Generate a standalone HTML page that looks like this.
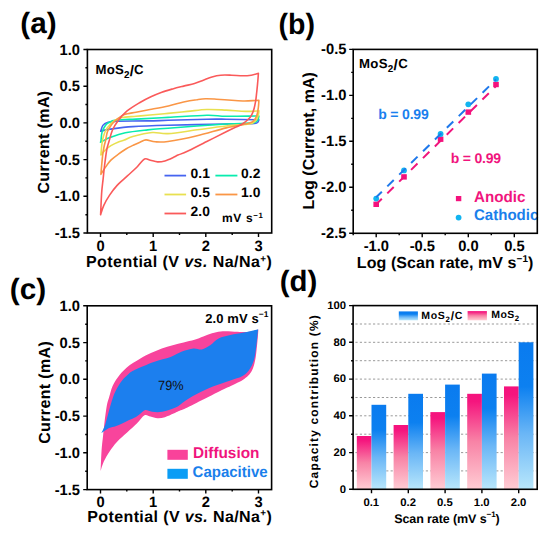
<!DOCTYPE html>
<html><head><meta charset="utf-8"><style>
html,body{margin:0;padding:0;background:#fff;overflow:hidden;width:550px;height:536px;}
svg{display:block;}
text{font-family:"Liberation Sans",sans-serif;text-rendering:geometricPrecision;}
</style></head><body>
<svg width="550" height="536" viewBox="0 0 550 536">
<rect width="550" height="536" fill="#fff"/>
<text transform="translate(20.30,32.75) scale(1.0061,1)" text-anchor="start" fill="#000" style="font-size:29.50px;font-weight:bold;font-style:normal;letter-spacing:0.00px">(a)</text>
<path d="M83.4 49.5H87.4M83.4 86.2H87.4M83.4 122.9H87.4M83.4 159.6H87.4M83.4 196.3H87.4M83.4 233.0H87.4M85.4 67.8H87.4M85.4 104.5H87.4M85.4 141.2H87.4M85.4 177.9H87.4M85.4 214.7H87.4" stroke="#000" stroke-width="1.4" fill="none"/>
<path d="M100.5 233.0V237.0M153.2 233.0V237.0M205.8 233.0V237.0M258.5 233.0V237.0M126.8 233.0V235.0M179.5 233.0V235.0M232.2 233.0V235.0" stroke="#000" stroke-width="1.4" fill="none"/>
<text transform="translate(80.00,54.50) scale(0.9800,1)" text-anchor="end" fill="#000" style="font-size:15.00px;font-weight:bold;font-style:normal;letter-spacing:0.00px">1.0</text>
<text transform="translate(80.00,91.20) scale(0.9800,1)" text-anchor="end" fill="#000" style="font-size:15.00px;font-weight:bold;font-style:normal;letter-spacing:0.00px">0.5</text>
<text transform="translate(80.00,127.90) scale(0.9800,1)" text-anchor="end" fill="#000" style="font-size:15.00px;font-weight:bold;font-style:normal;letter-spacing:0.00px">0.0</text>
<text transform="translate(80.00,164.60) scale(0.9800,1)" text-anchor="end" fill="#000" style="font-size:15.00px;font-weight:bold;font-style:normal;letter-spacing:0.00px">-0.5</text>
<text transform="translate(80.00,201.30) scale(0.9800,1)" text-anchor="end" fill="#000" style="font-size:15.00px;font-weight:bold;font-style:normal;letter-spacing:0.00px">-1.0</text>
<text transform="translate(80.00,238.00) scale(0.9800,1)" text-anchor="end" fill="#000" style="font-size:15.00px;font-weight:bold;font-style:normal;letter-spacing:0.00px">-1.5</text>
<text transform="translate(100.50,251.00) scale(0.9800,1)" text-anchor="middle" fill="#000" style="font-size:15.00px;font-weight:bold;font-style:normal;letter-spacing:0.00px">0</text>
<text transform="translate(153.17,251.00) scale(0.9800,1)" text-anchor="middle" fill="#000" style="font-size:15.00px;font-weight:bold;font-style:normal;letter-spacing:0.00px">1</text>
<text transform="translate(205.84,251.00) scale(0.9800,1)" text-anchor="middle" fill="#000" style="font-size:15.00px;font-weight:bold;font-style:normal;letter-spacing:0.00px">2</text>
<text transform="translate(258.51,251.00) scale(0.9800,1)" text-anchor="middle" fill="#000" style="font-size:15.00px;font-weight:bold;font-style:normal;letter-spacing:0.00px">3</text>
<text transform="translate(85.95,267.00)" text-anchor="start" fill="#000" style="font-size:16.00px;font-weight:bold;font-style:normal;letter-spacing:0.45px">Potential (V <tspan font-style="italic">vs.</tspan> Na/Na<tspan dy="-0.55em" style="font-size:0.62em">+</tspan><tspan dy="0.34em">)</tspan></text>
<text transform="translate(48.60,193.60) rotate(-90)" text-anchor="start" fill="#000" style="font-size:16.00px;font-weight:bold;font-style:normal;letter-spacing:0.37px">Current (mA)</text>
<text transform="translate(95.50,74.20)" text-anchor="start" fill="#000" style="font-size:13.20px;font-weight:bold;font-style:normal;letter-spacing:0.20px">MoS<tspan dy="0.4em" style="font-size:0.75em">2</tspan><tspan dy="-0.12em" style="font-size:1.15em">/</tspan><tspan dy="-0.162em">C</tspan></text>
<path d="M100.7 131.3C101.1 130.3 101.8 126.9 102.9 125.4C104.0 123.9 104.9 123.1 107.4 122.4C109.9 121.7 111.2 121.5 117.9 121.2C124.6 121.0 139.3 121.1 147.7 120.9C156.0 120.8 158.2 120.6 168.0 120.3C177.8 120.0 197.1 119.4 206.8 119.2C216.5 119.0 217.5 119.1 226.2 119.2C234.9 119.3 253.4 119.7 258.9 119.8C258.6 120.3 258.4 122.0 257.3 122.6C256.2 123.2 257.2 123.4 252.0 123.6C246.8 123.8 240.2 123.7 226.2 124.0C212.2 124.3 183.6 124.8 168.0 125.2C152.4 125.6 142.4 125.9 132.8 126.6C123.2 127.2 115.4 128.4 110.4 129.1C105.4 129.8 104.5 130.2 102.9 130.6C101.3 131.0 101.1 131.2 100.7 131.3Z" fill="none" stroke="#4664F0" stroke-width="1.6" stroke-linejoin="round"/>
<path d="M100.9 142.0C101.1 140.4 101.2 135.2 102.0 132.4C102.8 129.6 104.4 126.6 105.7 124.9C107.0 123.2 108.5 122.8 110.0 122.0C111.5 121.2 112.2 120.8 114.7 120.4C117.2 120.0 121.8 119.7 125.3 119.5C128.8 119.3 128.9 119.4 136.0 119.1C143.1 118.8 156.2 118.0 168.0 117.4C179.8 116.8 197.1 115.5 206.8 115.3C216.5 115.1 217.5 116.2 226.2 116.3C234.9 116.4 253.4 116.0 258.9 116.0C258.7 116.7 258.6 119.3 257.8 120.4C257.0 121.5 256.0 122.1 253.9 122.6C251.8 123.1 249.6 123.2 245.0 123.4C240.4 123.6 239.0 123.2 226.2 124.0C213.4 124.8 181.1 127.2 168.0 128.2C154.9 129.2 154.8 129.1 147.7 129.9C140.6 130.7 131.5 131.6 125.3 132.8C119.1 134.0 114.4 135.8 110.4 137.3C106.4 138.8 103.0 141.1 101.4 141.8C99.8 142.6 100.8 141.8 100.7 141.8Z" fill="none" stroke="#08ECAE" stroke-width="1.6" stroke-linejoin="round"/>
<path d="M100.9 154.9C101.1 153.2 101.4 148.1 101.8 145.0C102.2 141.9 102.6 138.9 103.5 136.1C104.4 133.2 105.3 130.5 107.2 127.9C109.1 125.3 112.2 122.1 114.7 120.4C117.2 118.7 118.5 118.2 122.1 117.5C125.6 116.8 131.3 116.7 136.0 116.3C140.7 115.9 144.7 115.5 150.0 115.0C155.3 114.5 161.8 114.0 168.0 113.4C174.2 112.8 180.9 112.1 187.4 111.4C193.9 110.8 200.3 109.7 206.8 109.5C213.3 109.3 219.7 109.8 226.2 110.1C232.7 110.4 240.2 111.3 245.6 111.4C251.0 111.5 256.7 111.0 258.9 110.9C258.8 111.6 258.8 113.4 258.4 114.8C258.0 116.2 257.4 118.1 256.7 119.3C255.9 120.5 255.2 121.3 253.9 122.1C252.6 122.9 253.6 123.3 249.0 124.0C244.4 124.7 234.8 125.0 226.2 126.0C217.5 127.0 206.8 128.5 197.1 129.8C187.4 131.1 175.5 133.2 168.0 133.6C160.5 134.0 158.1 132.0 152.2 132.5C146.3 133.0 137.4 135.3 132.8 136.6C128.2 137.8 126.8 139.1 124.4 140.0C122.0 140.9 120.7 141.0 118.4 141.9C116.2 142.8 113.0 144.3 110.9 145.6C108.8 146.9 107.4 148.1 105.7 149.7C104.0 151.2 101.7 154.0 100.9 154.9Z" fill="none" stroke="#E8E050" stroke-width="1.6" stroke-linejoin="round"/>
<path d="M100.9 174.3C101.0 172.9 101.3 169.3 101.6 166.1C101.9 162.9 102.3 158.2 102.7 154.9C103.1 151.6 103.7 148.5 104.2 146.0C104.7 143.5 105.2 142.3 105.7 140.0C106.2 137.7 106.5 134.6 107.2 132.4C107.9 130.2 109.0 128.6 110.0 127.0C111.0 125.4 111.8 124.2 113.2 122.7C114.6 121.2 116.5 119.6 118.4 118.2C120.3 116.8 121.5 115.5 124.4 114.5C127.3 113.5 131.7 113.0 136.0 112.2C140.3 111.4 144.6 110.5 150.0 109.5C155.4 108.5 162.8 107.2 168.4 106.0C174.0 104.8 178.9 103.0 183.6 102.0C188.3 101.0 193.0 100.3 196.7 99.8C200.3 99.2 202.2 98.8 205.5 98.7C208.8 98.6 212.1 98.9 216.4 99.2C220.8 99.5 226.9 100.0 231.6 100.3C236.3 100.6 240.7 101.0 244.7 101.0C248.7 101.0 253.2 100.6 255.6 100.5C258.0 100.4 258.3 100.4 258.9 100.4C258.8 101.5 258.7 104.8 258.4 107.0C258.1 109.2 257.8 111.8 257.3 113.7C256.8 115.6 256.4 116.9 255.6 118.2C254.8 119.5 254.2 120.6 252.8 121.5C251.4 122.4 251.6 122.7 247.2 123.8C242.8 124.9 234.5 125.9 226.2 127.9C217.8 129.9 206.8 133.4 197.1 135.7C187.4 138.0 175.0 140.5 168.0 141.5C161.0 142.5 158.9 142.1 155.2 141.8C151.5 141.5 148.5 139.8 146.0 139.9C143.5 140.0 142.2 141.3 140.0 142.2C137.8 143.1 135.3 144.3 133.0 145.4C130.7 146.5 128.3 147.5 125.9 149.0C123.5 150.5 120.9 152.3 118.4 154.2C115.9 156.0 113.0 158.0 110.9 160.1C108.8 162.2 107.4 164.5 105.7 166.9C104.0 169.3 101.7 173.1 100.9 174.3Z" fill="none" stroke="#FA9646" stroke-width="1.6" stroke-linejoin="round"/>
<path d="M100.6 214.7C100.8 211.2 101.2 199.5 101.6 193.6C102.0 187.7 102.6 183.7 103.1 179.1C103.6 174.5 103.9 170.8 104.5 166.0C105.1 161.2 106.0 154.0 106.7 150.0C107.4 146.0 107.9 145.1 108.9 141.8C109.9 138.5 111.0 133.5 112.5 130.0C114.0 126.5 115.5 124.0 117.9 120.9C120.3 117.8 123.1 114.3 126.8 111.2C130.5 108.1 136.0 104.9 140.0 102.5C144.0 100.1 147.3 98.5 150.9 96.8C154.5 95.1 158.2 93.5 161.8 92.2C165.4 90.9 169.1 89.9 172.7 88.9C176.3 87.9 180.0 87.0 183.6 86.1C187.2 85.2 191.2 84.5 194.5 83.5C197.8 82.5 200.4 81.3 203.3 80.2C206.2 79.1 209.1 77.7 212.0 76.9C214.9 76.1 217.4 75.5 220.7 75.2C224.0 74.9 227.9 75.1 231.6 75.2C235.2 75.3 239.3 75.8 242.6 75.8C245.9 75.8 248.7 75.6 251.3 75.2C253.9 74.8 257.2 73.6 258.4 73.3C258.3 74.6 258.1 78.0 257.8 81.2C257.5 84.4 257.1 89.0 256.7 92.4C256.3 95.8 256.1 98.6 255.6 101.4C255.1 104.2 254.6 107.0 253.9 109.2C253.2 111.4 252.6 113.1 251.7 114.8C250.8 116.5 249.8 117.8 248.3 119.3C246.8 120.8 244.8 122.5 242.7 123.8C240.6 125.1 238.8 125.8 236.0 127.1C233.2 128.4 231.1 129.4 226.2 131.8C221.3 134.2 213.3 138.3 206.8 141.5C200.3 144.7 192.2 148.9 187.4 151.2C182.6 153.5 180.3 154.1 178.0 155.1C175.7 156.1 175.8 156.3 173.6 157.3C171.4 158.3 167.6 160.1 164.9 160.9C162.2 161.7 160.0 162.0 157.6 161.9C155.2 161.8 152.6 160.7 150.4 160.2C148.2 159.7 146.7 157.9 144.5 159.0C142.3 160.1 140.2 163.8 137.3 166.7C134.4 169.6 130.5 173.0 127.1 176.2C123.7 179.3 119.8 182.4 116.9 185.6C114.0 188.8 111.8 191.8 109.6 195.1C107.4 198.4 105.3 202.0 103.8 205.3C102.3 208.6 101.1 213.1 100.6 214.7Z" fill="none" stroke="#FA5A5A" stroke-width="1.6" stroke-linejoin="round"/>
<path d="M164.5 175.6H186.1" stroke="#4664F0" stroke-width="1.8"/>
<path d="M215.4 175.6H237.4" stroke="#08ECAE" stroke-width="1.8"/>
<path d="M164.5 194.5H186.1" stroke="#E8E050" stroke-width="1.8"/>
<path d="M215.4 194.5H237.4" stroke="#FA9646" stroke-width="1.8"/>
<path d="M164.5 213.5H186.1" stroke="#FA5A5A" stroke-width="1.8"/>
<text transform="translate(190.60,178.15) scale(1.0113,1)" text-anchor="start" fill="#000" style="font-size:13.70px;font-weight:bold;font-style:normal;letter-spacing:0.00px">0.1</text>
<text transform="translate(241.10,178.15) scale(1.0113,1)" text-anchor="start" fill="#000" style="font-size:13.70px;font-weight:bold;font-style:normal;letter-spacing:0.00px">0.2</text>
<text transform="translate(190.60,196.95) scale(1.0113,1)" text-anchor="start" fill="#000" style="font-size:13.70px;font-weight:bold;font-style:normal;letter-spacing:0.00px">0.5</text>
<text transform="translate(241.10,196.95) scale(1.0113,1)" text-anchor="start" fill="#000" style="font-size:13.70px;font-weight:bold;font-style:normal;letter-spacing:0.00px">1.0</text>
<text transform="translate(190.60,215.65) scale(1.0113,1)" text-anchor="start" fill="#000" style="font-size:13.70px;font-weight:bold;font-style:normal;letter-spacing:0.00px">2.0</text>
<text transform="translate(222.00,221.80)" text-anchor="start" fill="#000" style="font-size:12.00px;font-weight:bold;font-style:normal;letter-spacing:0.66px">mV s<tspan dy="-0.52em" style="font-size:0.65em">&#8722;1</tspan></text>
<rect x="87.4" y="49.5" width="184.3" height="183.5" fill="none" stroke="#000" stroke-width="1.6"/>
<text transform="translate(278.50,33.50) scale(0.9670,1)" text-anchor="start" fill="#000" style="font-size:29.50px;font-weight:bold;font-style:normal;letter-spacing:0.00px">(b)</text>
<path d="M349.2 49.4H353.2M349.2 95.4H353.2M349.2 141.3H353.2M349.2 187.3H353.2M349.2 233.3H353.2M351.2 72.4H353.2M351.2 118.4H353.2M351.2 164.3H353.2M351.2 210.3H353.2" stroke="#000" stroke-width="1.4" fill="none"/>
<path d="M376.2 233.3V237.3M422.2 233.3V237.3M468.3 233.3V237.3M514.3 233.3V237.3M399.2 233.3V235.3M445.2 233.3V235.3M491.3 233.3V235.3M353.2 233.3V235.3" stroke="#000" stroke-width="1.4" fill="none"/>
<text transform="translate(346.40,54.40) scale(0.9800,1)" text-anchor="end" fill="#000" style="font-size:15.00px;font-weight:bold;font-style:normal;letter-spacing:0.00px">-0.5</text>
<text transform="translate(346.40,100.38) scale(0.9800,1)" text-anchor="end" fill="#000" style="font-size:15.00px;font-weight:bold;font-style:normal;letter-spacing:0.00px">-1.0</text>
<text transform="translate(346.40,146.35) scale(0.9800,1)" text-anchor="end" fill="#000" style="font-size:15.00px;font-weight:bold;font-style:normal;letter-spacing:0.00px">-1.5</text>
<text transform="translate(346.40,192.33) scale(0.9800,1)" text-anchor="end" fill="#000" style="font-size:15.00px;font-weight:bold;font-style:normal;letter-spacing:0.00px">-2.0</text>
<text transform="translate(346.40,238.30) scale(0.9800,1)" text-anchor="end" fill="#000" style="font-size:15.00px;font-weight:bold;font-style:normal;letter-spacing:0.00px">-2.5</text>
<text transform="translate(376.30,251.00) scale(0.9800,1)" text-anchor="middle" fill="#000" style="font-size:15.00px;font-weight:bold;font-style:normal;letter-spacing:0.00px">-1.0</text>
<text transform="translate(422.33,251.00) scale(0.9800,1)" text-anchor="middle" fill="#000" style="font-size:15.00px;font-weight:bold;font-style:normal;letter-spacing:0.00px">-0.5</text>
<text transform="translate(468.36,251.00) scale(0.9800,1)" text-anchor="middle" fill="#000" style="font-size:15.00px;font-weight:bold;font-style:normal;letter-spacing:0.00px">0.0</text>
<text transform="translate(514.39,251.00) scale(0.9800,1)" text-anchor="middle" fill="#000" style="font-size:15.00px;font-weight:bold;font-style:normal;letter-spacing:0.00px">0.5</text>
<text transform="translate(356.85,267.80)" text-anchor="start" fill="#000" style="font-size:16.00px;font-weight:bold;font-style:normal;letter-spacing:0.07px">Log (Scan rate, mV s<tspan dy="-0.565em" style="font-size:0.62em">&#8722;1</tspan><tspan dy="0.35em">)</tspan></text>
<text transform="translate(314.40,209.55) rotate(-90)" text-anchor="start" fill="#000" style="font-size:16.00px;font-weight:bold;font-style:normal;letter-spacing:0.03px">Log (Current, mA)</text>
<text transform="translate(359.00,68.20)" text-anchor="start" fill="#000" style="font-size:13.20px;font-weight:bold;font-style:normal;letter-spacing:0.32px">MoS<tspan dy="0.4em" style="font-size:0.75em">2</tspan><tspan dy="-0.12em" style="font-size:1.15em">/</tspan><tspan dy="-0.162em">C</tspan></text>
<rect x="373.4" y="201.6" width="5.6" height="5.4" fill="#F5127D"/>
<rect x="401.2" y="174.2" width="5.6" height="5.4" fill="#F5127D"/>
<rect x="437.8" y="136.5" width="5.6" height="5.4" fill="#F5127D"/>
<rect x="465.5" y="109.4" width="5.6" height="5.4" fill="#F5127D"/>
<rect x="493.2" y="81.8" width="5.6" height="5.4" fill="#F5127D"/>
<circle cx="376.2" cy="198.6" r="2.9" fill="#12B4F0"/>
<circle cx="404.0" cy="170.4" r="2.9" fill="#12B4F0"/>
<circle cx="440.6" cy="134.0" r="2.9" fill="#12B4F0"/>
<circle cx="468.3" cy="104.3" r="2.9" fill="#12B4F0"/>
<circle cx="496.0" cy="78.9" r="2.9" fill="#12B4F0"/>
<path d="M376.2 204.3L496.0 86.1" stroke="#F0147D" stroke-width="2" stroke-dasharray="9 7.7" stroke-dashoffset="1.1"/>
<path d="M376.2 197.3L496.0 79.5" stroke="#1E78EB" stroke-width="2" stroke-dasharray="9 7.7" stroke-dashoffset="1.1"/>
<text transform="translate(378.20,118.60)" text-anchor="start" fill="#1A80EE" style="font-size:14.00px;font-weight:bold;font-style:normal;letter-spacing:-0.17px">b = 0.99</text>
<text transform="translate(450.70,162.80)" text-anchor="start" fill="#F0147D" style="font-size:14.00px;font-weight:bold;font-style:normal;letter-spacing:-0.20px">b = 0.99</text>
<rect x="455.9" y="196" width="5.4" height="5.2" fill="#F5127D"/>
<circle cx="458.6" cy="217.6" r="2.9" fill="#12B4F0"/>
<text transform="translate(473.90,201.60) scale(0.9808,1)" text-anchor="start" fill="#F0147D" style="font-size:15.50px;font-weight:bold;font-style:normal;letter-spacing:0.00px">Anodic</text>
<text transform="translate(474.00,220.20) scale(0.9699,1)" text-anchor="start" fill="#1A7FEB" style="font-size:15.50px;font-weight:bold;font-style:normal;letter-spacing:0.00px">Cathodic</text>
<rect x="353.2" y="49.4" width="184.1" height="183.9" fill="none" stroke="#000" stroke-width="1.6"/>
<text transform="translate(9.85,299.10) scale(1.0097,1)" text-anchor="start" fill="#000" style="font-size:29.50px;font-weight:bold;font-style:normal;letter-spacing:0.00px">(c)</text>
<path d="M83.2 305.8H87.2M83.2 342.6H87.2M83.2 379.3H87.2M83.2 416.1H87.2M83.2 452.8H87.2M83.2 489.6H87.2M85.2 324.2H87.2M85.2 360.9H87.2M85.2 397.7H87.2M85.2 434.5H87.2M85.2 471.2H87.2" stroke="#000" stroke-width="1.4" fill="none"/>
<path d="M100.5 489.6V493.6M153.2 489.6V493.6M205.8 489.6V493.6M258.5 489.6V493.6M126.8 489.6V491.6M179.5 489.6V491.6M232.2 489.6V491.6" stroke="#000" stroke-width="1.4" fill="none"/>
<text transform="translate(80.00,310.80) scale(0.9800,1)" text-anchor="end" fill="#000" style="font-size:15.00px;font-weight:bold;font-style:normal;letter-spacing:0.00px">1.0</text>
<text transform="translate(80.00,347.56) scale(0.9800,1)" text-anchor="end" fill="#000" style="font-size:15.00px;font-weight:bold;font-style:normal;letter-spacing:0.00px">0.5</text>
<text transform="translate(80.00,384.32) scale(0.9800,1)" text-anchor="end" fill="#000" style="font-size:15.00px;font-weight:bold;font-style:normal;letter-spacing:0.00px">0.0</text>
<text transform="translate(80.00,421.08) scale(0.9800,1)" text-anchor="end" fill="#000" style="font-size:15.00px;font-weight:bold;font-style:normal;letter-spacing:0.00px">-0.5</text>
<text transform="translate(80.00,457.84) scale(0.9800,1)" text-anchor="end" fill="#000" style="font-size:15.00px;font-weight:bold;font-style:normal;letter-spacing:0.00px">-1.0</text>
<text transform="translate(80.00,494.60) scale(0.9800,1)" text-anchor="end" fill="#000" style="font-size:15.00px;font-weight:bold;font-style:normal;letter-spacing:0.00px">-1.5</text>
<text transform="translate(100.50,507.40) scale(0.9800,1)" text-anchor="middle" fill="#000" style="font-size:15.00px;font-weight:bold;font-style:normal;letter-spacing:0.00px">0</text>
<text transform="translate(153.17,507.40) scale(0.9800,1)" text-anchor="middle" fill="#000" style="font-size:15.00px;font-weight:bold;font-style:normal;letter-spacing:0.00px">1</text>
<text transform="translate(205.84,507.40) scale(0.9800,1)" text-anchor="middle" fill="#000" style="font-size:15.00px;font-weight:bold;font-style:normal;letter-spacing:0.00px">2</text>
<text transform="translate(258.51,507.40) scale(0.9800,1)" text-anchor="middle" fill="#000" style="font-size:15.00px;font-weight:bold;font-style:normal;letter-spacing:0.00px">3</text>
<text transform="translate(87.25,521.60)" text-anchor="start" fill="#000" style="font-size:16.00px;font-weight:bold;font-style:normal;letter-spacing:0.39px">Potential (V <tspan font-style="italic">vs.</tspan> Na/Na<tspan dy="-0.55em" style="font-size:0.62em">+</tspan><tspan dy="0.34em">)</tspan></text>
<text transform="translate(49.60,443.80) rotate(-90)" text-anchor="start" fill="#000" style="font-size:16.00px;font-weight:bold;font-style:normal;letter-spacing:0.35px">Current (mA)</text>
<path d="M100.6 471.0C100.8 467.5 101.2 455.8 101.6 449.9C102.0 444.0 102.6 440.0 103.1 435.4C103.6 430.8 103.9 427.1 104.5 422.3C105.1 417.5 106.0 410.3 106.7 406.3C107.4 402.3 107.9 401.4 108.9 398.1C109.9 394.8 111.0 389.8 112.5 386.3C114.0 382.8 115.5 380.3 117.9 377.2C120.3 374.1 123.1 370.6 126.8 367.5C130.5 364.4 136.0 361.2 140.0 358.8C144.0 356.4 147.3 354.8 150.9 353.1C154.5 351.4 158.2 349.8 161.8 348.5C165.4 347.2 169.1 346.2 172.7 345.2C176.3 344.2 180.0 343.3 183.6 342.4C187.2 341.5 191.2 340.8 194.5 339.8C197.8 338.8 200.4 337.6 203.3 336.5C206.2 335.4 209.1 334.0 212.0 333.2C214.9 332.4 217.4 331.8 220.7 331.5C224.0 331.2 227.9 331.4 231.6 331.5C235.2 331.6 239.3 332.1 242.6 332.1C245.9 332.1 248.7 331.9 251.3 331.5C253.9 331.1 257.2 329.9 258.4 329.6C258.3 330.9 258.1 334.3 257.8 337.5C257.5 340.7 257.1 345.3 256.7 348.7C256.3 352.1 256.1 354.9 255.6 357.7C255.1 360.5 254.6 363.3 253.9 365.5C253.2 367.7 252.6 369.4 251.7 371.1C250.8 372.8 249.8 374.1 248.3 375.6C246.8 377.1 244.8 378.8 242.7 380.1C240.6 381.4 238.8 382.1 236.0 383.4C233.2 384.7 231.1 385.7 226.2 388.1C221.3 390.5 213.3 394.6 206.8 397.8C200.3 401.0 192.2 405.2 187.4 407.5C182.6 409.8 180.3 410.4 178.0 411.4C175.7 412.4 175.8 412.6 173.6 413.6C171.4 414.6 167.6 416.4 164.9 417.2C162.2 418.0 160.0 418.3 157.6 418.2C155.2 418.1 152.6 417.0 150.4 416.5C148.2 416.0 146.7 414.2 144.5 415.3C142.3 416.4 140.2 420.1 137.3 423.0C134.4 425.9 130.5 429.4 127.1 432.5C123.7 435.6 119.8 438.8 116.9 441.9C114.0 445.0 111.8 448.1 109.6 451.4C107.4 454.7 105.3 458.3 103.8 461.6C102.3 464.9 101.1 469.4 100.6 471.0Z" fill="#F8449C"/>
<path d="M101.2 433.3C101.8 431.9 103.9 428.3 105.1 424.9C106.3 421.5 107.3 417.0 108.4 413.1C109.5 409.2 110.5 405.0 111.7 401.3C112.9 397.6 113.9 394.4 115.6 390.9C117.3 387.4 119.9 383.2 122.1 380.4C124.3 377.6 126.4 375.7 128.6 373.9C130.8 372.1 130.8 371.8 135.0 369.8C139.2 367.8 147.9 364.0 153.8 361.9C159.7 359.8 165.9 358.6 170.6 356.9C175.3 355.2 178.2 353.0 182.0 351.6C185.8 350.2 190.1 348.9 193.4 348.5C196.7 348.1 199.0 349.9 201.8 349.4C204.6 348.8 207.4 347.0 210.2 345.2C213.0 343.4 215.2 340.2 218.6 338.5C222.0 336.8 226.2 336.1 230.4 335.1C234.6 334.1 239.2 333.6 243.8 332.6C248.4 331.6 255.7 329.8 258.1 329.2C257.8 331.9 257.1 340.0 256.4 345.2C255.7 350.4 255.2 356.1 253.9 360.3C252.6 364.5 250.8 367.8 248.8 370.4C246.8 373.0 245.2 374.5 242.1 376.2C239.0 377.9 235.2 378.7 230.4 380.4C225.7 382.1 219.2 384.1 213.6 386.3C208.0 388.6 201.6 391.5 196.8 393.9C192.0 396.3 188.5 398.6 185.0 400.9C181.5 403.2 179.4 405.8 175.6 407.6C171.8 409.4 166.1 411.1 162.2 411.8C158.3 412.5 154.9 412.1 152.1 411.8C149.3 411.5 147.3 409.8 145.4 410.1C143.5 410.4 142.1 412.5 140.5 413.6C138.9 414.8 138.0 415.9 136.0 417.0C134.0 418.1 130.9 419.2 128.6 420.3C126.3 421.4 124.3 422.5 122.1 423.5C119.9 424.5 117.8 425.4 115.6 426.2C113.4 427.0 111.5 426.9 109.1 428.1C106.7 429.3 102.5 432.4 101.2 433.3Z" fill="#1C7FEE"/>
<text transform="translate(158.05,390.00) scale(0.9448,1)" text-anchor="start" fill="#111" style="font-size:13.50px;font-weight:normal;font-style:normal;letter-spacing:0.00px">79%</text>
<text transform="translate(205.15,323.20)" text-anchor="start" fill="#000" style="font-size:13.00px;font-weight:bold;font-style:normal;letter-spacing:0.11px">2.0 mV s<tspan dy="-0.69em" style="font-size:0.65em">&#8722;1</tspan></text>
<rect x="167.4" y="449.8" width="20.4" height="10" fill="#F9429A"/>
<rect x="167.4" y="468.8" width="20.4" height="10" fill="#0B9DF5"/>
<text transform="translate(192.90,458.20) scale(0.9910,1)" text-anchor="start" fill="#F0147D" style="font-size:15.50px;font-weight:bold;font-style:normal;letter-spacing:0.00px">Diffusion</text>
<text transform="translate(192.55,476.80) scale(0.9676,1)" text-anchor="start" fill="#1A7FEB" style="font-size:15.50px;font-weight:bold;font-style:normal;letter-spacing:0.00px">Capacitive</text>
<rect x="87.2" y="305.8" width="184.4" height="183.8" fill="none" stroke="#000" stroke-width="1.6"/>
<text transform="translate(279.65,290.60) scale(0.9983,1)" text-anchor="start" fill="#000" style="font-size:29.50px;font-weight:bold;font-style:normal;letter-spacing:0.00px">(d)</text>
<path d="M354.1 470.9H536.2M354.1 452.6H536.2M354.1 434.2H536.2M354.1 415.8H536.2M354.1 397.5H536.2M354.1 379.1H536.2M354.1 360.7H536.2M354.1 342.3H536.2M354.1 324.0H536.2" stroke="#999" stroke-width="1" stroke-dasharray="2.2 2.2" stroke-dashoffset="-1.3"/>
<defs><linearGradient id="gp" x1="0" y1="0" x2="0" y2="1"><stop offset="0" stop-color="#F5127D"/><stop offset="0.08" stop-color="#F5157E"/><stop offset="0.5" stop-color="#F883A6"/><stop offset="1" stop-color="#FFCDD4"/></linearGradient><linearGradient id="gb" x1="0" y1="0" x2="0" y2="1"><stop offset="0" stop-color="#0A7BEF"/><stop offset="0.3" stop-color="#0C80F0"/><stop offset="0.62" stop-color="#6AB6F6"/><stop offset="1" stop-color="#B9E7FB"/></linearGradient></defs>
<rect x="356.8" y="436.0" width="14.7" height="53.3" fill="url(#gp)"/>
<rect x="371.5" y="404.8" width="14.7" height="84.5" fill="url(#gb)"/>
<rect x="393.6" y="425.0" width="14.7" height="64.3" fill="url(#gp)"/>
<rect x="408.3" y="393.8" width="14.7" height="95.5" fill="url(#gb)"/>
<rect x="430.4" y="412.1" width="14.7" height="77.2" fill="url(#gp)"/>
<rect x="445.1" y="384.6" width="14.7" height="104.7" fill="url(#gb)"/>
<rect x="467.2" y="393.8" width="14.7" height="95.5" fill="url(#gp)"/>
<rect x="481.9" y="373.6" width="14.7" height="115.7" fill="url(#gb)"/>
<rect x="504.0" y="386.4" width="14.7" height="102.9" fill="url(#gp)"/>
<rect x="518.7" y="342.3" width="14.7" height="147.0" fill="url(#gb)"/>
<path d="M349.1 489.3H353.1M349.1 452.6H353.1M349.1 415.8H353.1M349.1 379.1H353.1M349.1 342.3H353.1M349.1 305.6H353.1M351.1 470.9H353.1M351.1 434.2H353.1M351.1 397.5H353.1M351.1 360.7H353.1M351.1 324.0H353.1" stroke="#000" stroke-width="1.4" fill="none"/>
<path d="M371.5 489.3V493.3M408.3 489.3V493.3M445.1 489.3V493.3M481.9 489.3V493.3M518.7 489.3V493.3" stroke="#000" stroke-width="1.4" fill="none"/>
<text transform="translate(346.10,492.50) scale(1.0254,1)" text-anchor="end" fill="#000" style="font-size:11.00px;font-weight:bold;font-style:normal;letter-spacing:0.00px">0</text>
<text transform="translate(346.10,455.76) scale(1.0254,1)" text-anchor="end" fill="#000" style="font-size:11.00px;font-weight:bold;font-style:normal;letter-spacing:0.00px">20</text>
<text transform="translate(346.10,419.02) scale(1.0254,1)" text-anchor="end" fill="#000" style="font-size:11.00px;font-weight:bold;font-style:normal;letter-spacing:0.00px">40</text>
<text transform="translate(346.10,382.28) scale(1.0254,1)" text-anchor="end" fill="#000" style="font-size:11.00px;font-weight:bold;font-style:normal;letter-spacing:0.00px">60</text>
<text transform="translate(346.10,345.54) scale(1.0254,1)" text-anchor="end" fill="#000" style="font-size:11.00px;font-weight:bold;font-style:normal;letter-spacing:0.00px">80</text>
<text transform="translate(346.10,308.80) scale(1.0254,1)" text-anchor="end" fill="#000" style="font-size:11.00px;font-weight:bold;font-style:normal;letter-spacing:0.00px">100</text>
<text transform="translate(371.30,506.20) scale(1.0272,1)" text-anchor="middle" fill="#000" style="font-size:11.00px;font-weight:bold;font-style:normal;letter-spacing:0.00px">0.1</text>
<text transform="translate(408.10,506.20) scale(1.0272,1)" text-anchor="middle" fill="#000" style="font-size:11.00px;font-weight:bold;font-style:normal;letter-spacing:0.00px">0.2</text>
<text transform="translate(444.90,506.20) scale(1.0272,1)" text-anchor="middle" fill="#000" style="font-size:11.00px;font-weight:bold;font-style:normal;letter-spacing:0.00px">0.5</text>
<text transform="translate(481.70,506.20) scale(1.0272,1)" text-anchor="middle" fill="#000" style="font-size:11.00px;font-weight:bold;font-style:normal;letter-spacing:0.00px">1.0</text>
<text transform="translate(518.50,506.20) scale(1.0272,1)" text-anchor="middle" fill="#000" style="font-size:11.00px;font-weight:bold;font-style:normal;letter-spacing:0.00px">2.0</text>
<text transform="translate(394.25,523.30)" text-anchor="start" fill="#000" style="font-size:12.50px;font-weight:bold;font-style:normal;letter-spacing:-0.10px">Scan rate (mV s<tspan dy="-0.77em" style="font-size:0.65em">&#8722;1</tspan><tspan dy="0.5em">)</tspan></text>
<text transform="translate(318.20,488.20) rotate(-90)" text-anchor="start" fill="#000" style="font-size:12.00px;font-weight:bold;font-style:normal;letter-spacing:1.15px">Capacity contribution (%)</text>
<rect x="398.8" y="311.4" width="19.1" height="8.9" fill="url(#gb)"/>
<rect x="467.6" y="311.1" width="19.3" height="9.2" fill="url(#gp)"/>
<text transform="translate(421.25,318.50)" text-anchor="start" fill="#000" style="font-size:10.50px;font-weight:bold;font-style:normal;letter-spacing:0.72px">MoS<tspan dy="0.4em" style="font-size:0.75em">2</tspan><tspan dy="-0.12em" style="font-size:1.15em">/</tspan><tspan dy="-0.162em">C</tspan></text>
<text transform="translate(491.20,318.20)" text-anchor="start" fill="#000" style="font-size:10.50px;font-weight:bold;font-style:normal;letter-spacing:0.43px">MoS<tspan dy="0.4em" style="font-size:0.75em">2</tspan></text>
<rect x="353.1" y="305.6" width="184.1" height="183.7" fill="none" stroke="#000" stroke-width="1.6"/>
</svg>
</body></html>
